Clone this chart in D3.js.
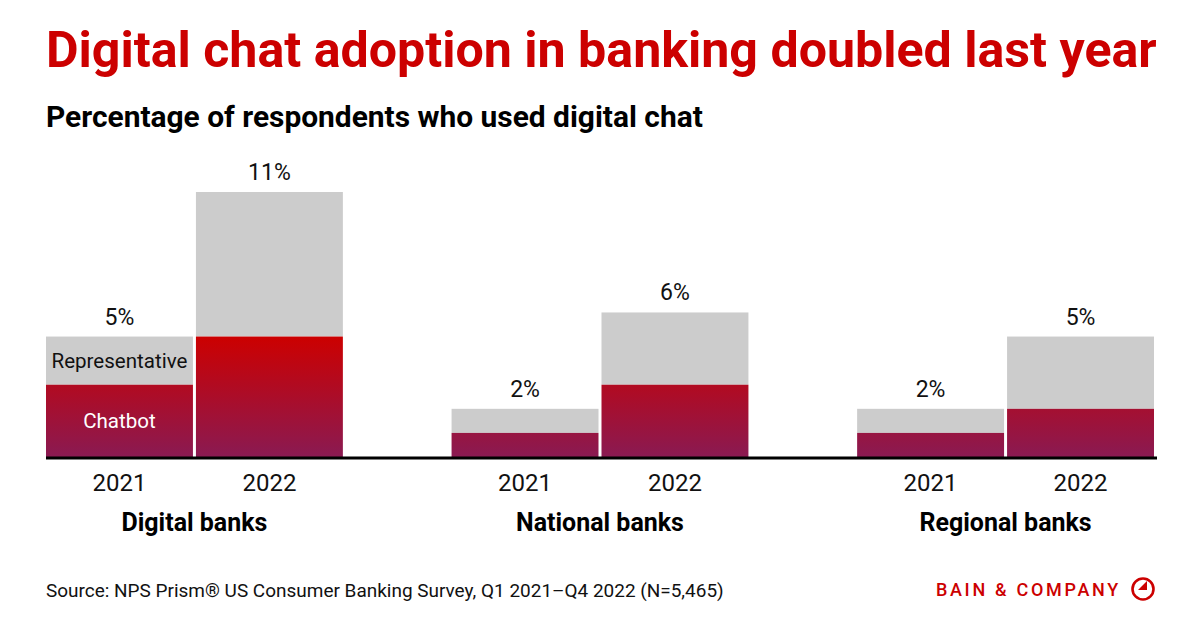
<!DOCTYPE html>
<html>
<head>
<meta charset="utf-8">
<script src="https://cdn.jsdelivr.net/npm/d3@7"></script>
<style>
  body { margin: 0; background: #fff; }
  svg { display: block; font-family: Roboto, "Noto Sans", sans-serif; }
</style>
</head>
<body>
<svg id="chart"></svg>
<script>
const width = 1200;
const height = 627;

const groups = ['Digital banks', 'National banks', 'Regional banks'];
const years = ['2021', '2022'];
const chatbot = [[3, 5], [1, 3], [1, 2]];
const representative = [[2, 6], [1, 3], [1, 3]];
const totalLabels = [['5%', '11%'], ['2%', '6%'], ['2%', '5%']];

const red = '#cc0000';
const grey = '#cccccc';

const svg = d3.select('#chart')
    .attr('width', width)
    .attr('height', height);

// scale a text's font size so it spans the wanted width
function fit(sel, size, target) {
    sel.attr('font-size', size);
    const w = sel.node().getComputedTextLength();
    const s = size * target / w;
    sel.attr('font-size', s);
    return s;
}

const x = d3.scaleBand().domain(groups).range([46, 1154]).paddingInner(0.268);
const xYear = d3.scaleBand().domain(years).range([0, x.bandwidth()]).paddingInner(0.02);
const y = d3.scaleLinear().domain([0, 11]).range([457, 192]);

// shared gradient for the chatbot part
const defs = svg.append('defs');
const grad = defs.append('linearGradient')
    .attr('id', 'chatGrad')
    .attr('gradientUnits', 'userSpaceOnUse')
    .attr('x1', 0).attr('x2', 0)
    .attr('y1', y(5)).attr('y2', y(0));
grad.append('stop').attr('offset', '0%').attr('stop-color', '#cc0000');
grad.append('stop').attr('offset', '100%').attr('stop-color', '#8a1a52');

// title + subtitle, fitted to width
const title = svg.append('text')
    .attr('x', 46).attr('y', 67)
    .attr('fill', red)
    .attr('font-weight', 700)
    .text('Digital chat adoption in banking doubled last year');
fit(title, 48, 1111);

const sub = svg.append('text')
    .attr('x', 46).attr('y', 127)
    .attr('fill', '#000')
    .attr('font-weight', 700)
    .text('Percentage of respondents who used digital chat');
fit(sub, 26, 657);

// rows of data
const rows = [];
groups.forEach((g, i) => {
    years.forEach((yr, j) => {
        rows.push({
            group: g, year: yr,
            chat: chatbot[i][j],
            rep: representative[i][j],
            label: totalLabels[i][j]
        });
    });
});

const bars = svg.append('g').selectAll('g').data(rows).enter().append('g')
    .attr('transform', d => `translate(${x(d.group) + xYear(d.year)},0)`);

bars.append('rect')
    .attr('x', 0)
    .attr('width', xYear.bandwidth())
    .attr('y', d => y(d.chat + d.rep))
    .attr('height', d => y(d.chat) - y(d.chat + d.rep))
    .attr('fill', grey);

bars.append('rect')
    .attr('x', 0)
    .attr('width', xYear.bandwidth())
    .attr('y', d => y(d.chat))
    .attr('height', d => y(0) - y(d.chat))
    .attr('fill', 'url(#chatGrad)');

bars.append('text')
    .attr('x', xYear.bandwidth() / 2)
    .attr('y', d => y(d.chat + d.rep) - 12)
    .attr('text-anchor', 'middle')
    .attr('font-size', 23)
    .attr('fill', '#111')
    .text(d => d.label);

bars.append('text')
    .attr('x', xYear.bandwidth() / 2)
    .attr('y', 491)
    .attr('text-anchor', 'middle')
    .attr('font-size', 24)
    .attr('fill', '#111')
    .text(d => d.year);

// legend labels inside first bar
const first = rows[0];
const fx = x(first.group) + xYear(first.year) + xYear.bandwidth() / 2;
const repLabel = svg.append('text')
    .attr('x', fx)
    .attr('y', (y(first.chat + first.rep) + y(first.chat)) / 2 + 7)
    .attr('text-anchor', 'middle')
    .attr('fill', '#111')
    .text('Representative');
const legSize = fit(repLabel, 19, 136);
svg.append('text')
    .attr('x', fx)
    .attr('y', (y(first.chat) + y(0)) / 2 + 7)
    .attr('text-anchor', 'middle')
    .attr('font-size', legSize)
    .attr('fill', '#fff')
    .text('Chatbot');

// baseline
svg.append('line')
    .attr('x1', 46).attr('x2', 1157)
    .attr('y1', y(0) + 1).attr('y2', y(0) + 1)
    .attr('stroke', '#000')
    .attr('stroke-width', 3);

// group labels
const groupLabels = svg.append('g').selectAll('text').data(groups).enter().append('text')
    .attr('x', d => x(d) + x.bandwidth() / 2)
    .attr('y', 531)
    .attr('text-anchor', 'middle')
    .attr('font-weight', 700)
    .attr('fill', '#000')
    .text(d => d);
const gSize = fit(d3.select(groupLabels.nodes()[0]), 22, 146);
groupLabels.attr('font-size', gSize);

// source
const source = svg.append('text')
    .attr('x', 46).attr('y', 597)
    .attr('fill', '#111')
    .text('Source: NPS Prism® US Consumer Banking Survey, Q1 2021–Q4 2022 (N=5,465)');
fit(source, 17, 678);

// logo
const brand = svg.append('text')
    .attr('x', 1121).attr('y', 596)
    .attr('text-anchor', 'end')
    .attr('font-size', 18)
    .attr('font-weight', 500)
    .attr('letter-spacing', 1.6)
    .attr('fill', red)
    .text('BAIN & COMPANY');
const bw = brand.node().getComputedTextLength();
brand.attr('letter-spacing', 1.6 + (184 - bw) / 13);
const logo = svg.append('g').attr('transform', 'translate(1143,589)');
logo.append('circle').attr('r', 10.5).attr('fill', 'none').attr('stroke', red).attr('stroke-width', 2.6);
logo.append('path').attr('d', 'M-5,1 L4,1 L4,-8 Z').attr('fill', red);
</script>
</body>
</html>
